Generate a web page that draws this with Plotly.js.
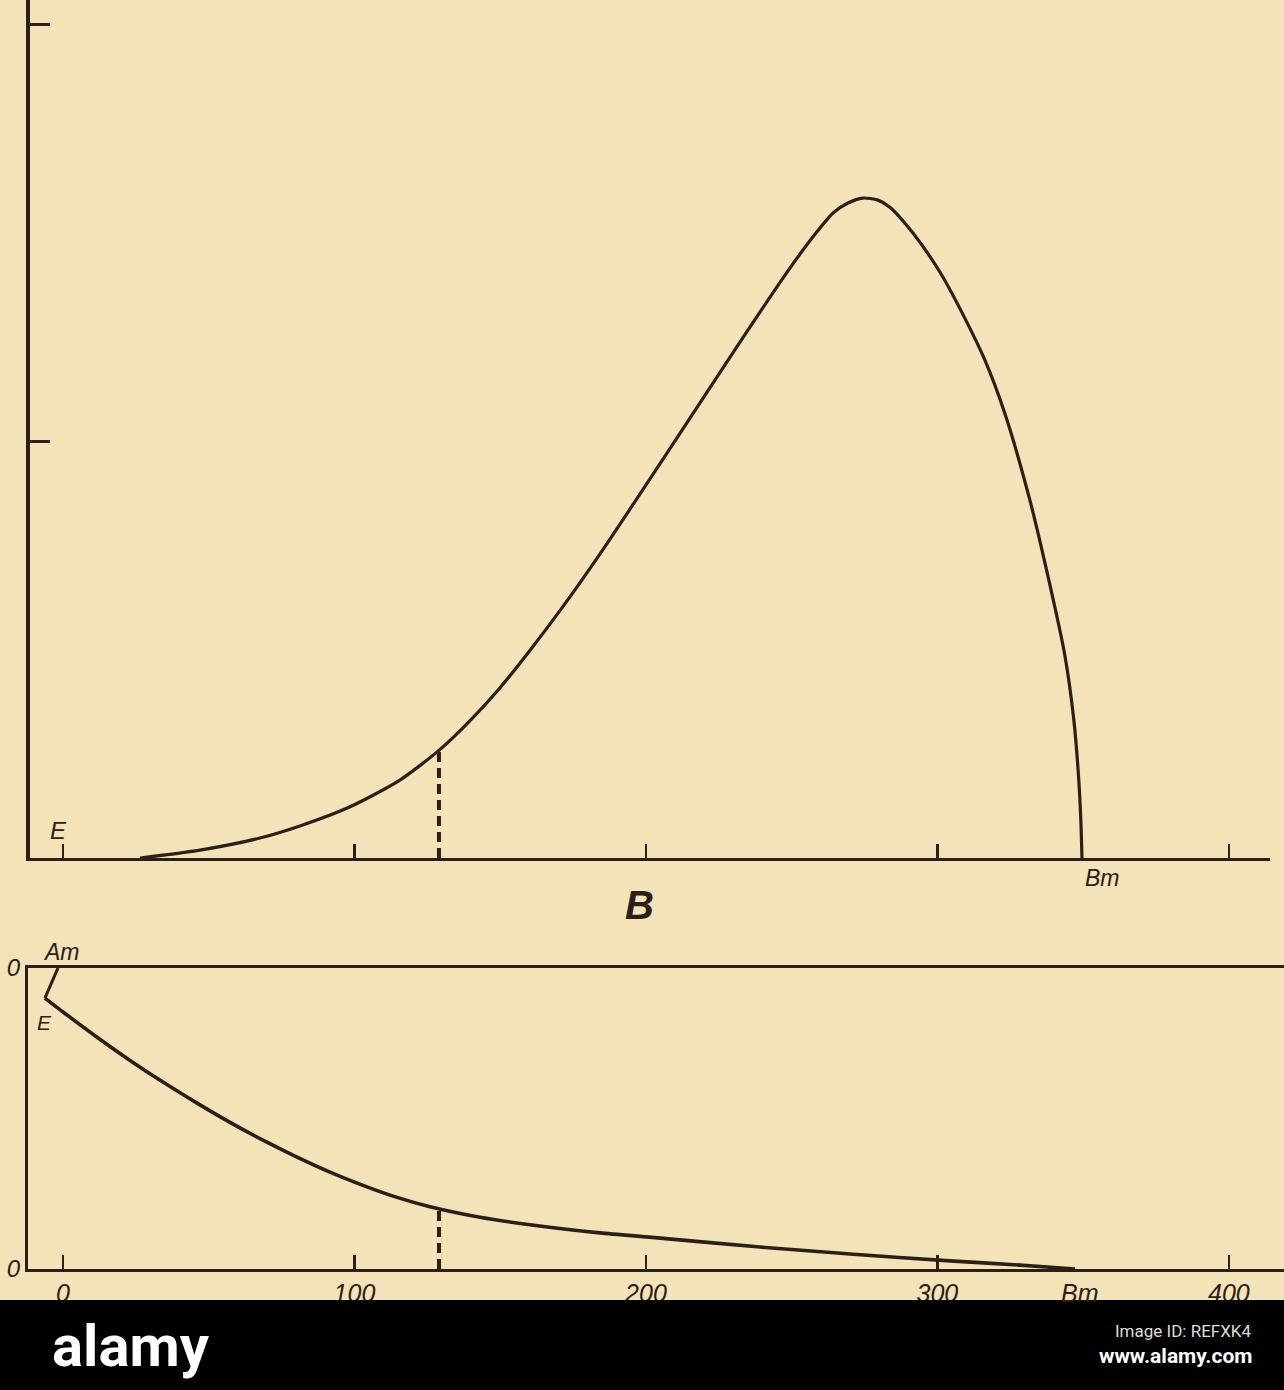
<!DOCTYPE html>
<html>
<head>
<meta charset="utf-8">
<script src="https://cdn.plot.ly/plotly-3.0.1.min.js"></script>
<style>
  html, body { margin: 0; padding: 0; background: #f4e3b8; }
  #chart { width: 1284px; height: 1390px; }
</style>
</head>
<body>
<div id="chart"></div>
<script>
// ---- Data ----
// Upper diagram: curve from its base up to the maximum and down to Bm
const upperX = [26.4, 47.0, 67.6, 81.3, 98.5, 115.6, 129.3, 139.6, 149.9, 160.2, 171.2, 184.2, 195.5, 218.5, 232.2, 249.4, 258.0, 264.2, 269.3, 274.4, 279.6, 283.7, 291.6, 300.9, 309.4, 316.3, 323.2, 331.7, 338.6, 343.7, 346.8, 348.5, 349.2, 349.6];
const upperY = [0, 0.019, 0.048, 0.077, 0.123, 0.187, 0.260, 0.329, 0.408, 0.498, 0.600, 0.729, 0.847, 1.091, 1.237, 1.415, 1.496, 1.547, 1.571, 1.583, 1.578, 1.561, 1.499, 1.405, 1.295, 1.194, 1.065, 0.859, 0.655, 0.487, 0.331, 0.187, 0.091, 0];

// Lower diagram: Am -> E short segment, then the falling curve to Bm
const amEX = [-1.7, -6.2];
const amEY = [100, 90.0];
const lowerX = [-6.2, 0, 11.7, 23.0, 34.3, 46.0, 57.3, 68.6, 80.3, 91.6, 102.9, 114.6, 125.9, 143.1, 160.2, 184.2, 202.1, 239.1, 270.0, 304.3, 328.3, 347.2];
const lowerY = [90.0, 85.4, 77.0, 69.3, 62.1, 55.1, 48.7, 42.8, 37.2, 32.2, 27.8, 23.8, 20.7, 17.2, 14.7, 12.0, 10.5, 7.3, 5.0, 2.7, 1.3, 0];

// Dashed marker (same abscissa in both diagrams)
const dashX = 129;
const dashUpperTop = 0.260;
const dashLowerTop = 20.1;

// Axis ticks
const xTickVals = [0, 100, 200, 300, 400];
const xTickText = ['0', '100', '200', '300', '400'];
const upperYTicks = [1, 2];
const lowerYTicks = [0, 100];
const lowerYTickText = ['0', '0'];
const bmValue = 349;

// ---- Styling ----
const ink = '#2a2017';
const paperBg = '#f4e3b8';
const fontFam = '"Liberation Sans", "DejaVu Sans", Arial, sans-serif';

const traces = [
  { x: upperX, y: upperY, xaxis: 'x', yaxis: 'y', mode: 'lines',
    line: { color: ink, width: 3.2, shape: 'spline', smoothing: 0.7 }, hoverinfo: 'skip' },
  { x: [dashX, dashX], y: [0, dashUpperTop], xaxis: 'x', yaxis: 'y', mode: 'lines',
    line: { color: ink, width: 4, dash: '10px,6px' }, hoverinfo: 'skip' },
  { x: amEX, y: amEY, xaxis: 'x2', yaxis: 'y2', mode: 'lines',
    line: { color: ink, width: 3 }, hoverinfo: 'skip' },
  { x: lowerX, y: lowerY, xaxis: 'x2', yaxis: 'y2', mode: 'lines',
    line: { color: ink, width: 3.6, shape: 'spline', smoothing: 0.7 }, hoverinfo: 'skip' },
  { x: [dashX, dashX], y: [0, dashLowerTop], xaxis: 'x2', yaxis: 'y2', mode: 'lines',
    line: { color: ink, width: 4, dash: '10px,6px' }, hoverinfo: 'skip' }
];

const italic = (size, weight) => ({ family: fontFam, size: size, color: ink, style: 'italic', weight: weight || 'normal' });

const layout = {
  width: 1284, height: 1390,
  margin: { l: 0, r: 0, t: 0, b: 0 },
  paper_bgcolor: paperBg, plot_bgcolor: paperBg,
  showlegend: false,
  xaxis: {
    domain: [0.02336, 0.98910], range: [-11.3, 414.1], anchor: 'y',
    showline: true, linecolor: ink, linewidth: 3,
    ticks: 'inside', ticklen: 14, tickwidth: 2.5, tickcolor: ink,
    tickvals: xTickVals, showticklabels: false, showgrid: false, zeroline: false
  },
  yaxis: {
    domain: [0.3827, 1], range: [0, 2.058], anchor: 'x',
    showline: true, linecolor: ink, linewidth: 3.5,
    ticks: 'inside', ticklen: 20, tickwidth: 3, tickcolor: ink,
    tickvals: upperYTicks, showticklabels: false, showgrid: false, zeroline: false
  },
  xaxis2: {
    domain: [0.02181, 1], range: [-12.0, 418.9], anchor: 'y2',
    showline: true, mirror: true, linecolor: ink, linewidth: 3,
    ticks: 'inside', ticklen: 14, tickwidth: 2.5, tickcolor: ink,
    tickvals: xTickVals, ticktext: xTickText, tickfont: italic(25),
    showgrid: false, zeroline: false
  },
  yaxis2: {
    domain: [0.08705, 0.30360], range: [0, 100], anchor: 'x2',
    showline: true, linecolor: ink, linewidth: 3,
    ticks: '', tickvals: lowerYTicks, ticktext: lowerYTickText, tickfont: italic(24),
    showgrid: false, zeroline: false
  },
  annotations: [
    { xref: 'x', yref: 'y', x: -1.5, y: 0.067, text: 'E', showarrow: false, font: italic(24), xanchor: 'center', yanchor: 'middle' },
    { xref: 'paper', yref: 'paper', x: 0.498, y: 0.349, text: 'B', showarrow: false, font: italic(40, 'bold'), xanchor: 'center', yanchor: 'middle' },
    { xref: 'paper', yref: 'paper', x: 0.859, y: 0.3683, text: 'Bm', showarrow: false, font: italic(23), xanchor: 'center', yanchor: 'middle' },
    { xref: 'paper', yref: 'paper', x: 0.048, y: 0.3151, text: 'Am', showarrow: false, font: italic(23), xanchor: 'center', yanchor: 'middle' },
    { xref: 'paper', yref: 'paper', x: 0.035, y: 0.2647, text: 'E', showarrow: false, font: italic(21), xanchor: 'center', yanchor: 'middle' },
    { xref: 'x2', yref: 'paper', x: bmValue, y: 0.0698, text: 'Bm', showarrow: false, font: italic(25), xanchor: 'center', yanchor: 'middle' },
    { xref: 'paper', yref: 'paper', x: 0.039, y: 0.032, text: '<b>alamy</b>', showarrow: false,
      font: { family: '"Liberation Sans Narrow", "Roboto", sans-serif', size: 58, color: '#ffffff' }, xanchor: 'left', yanchor: 'middle' },
    { xref: 'paper', yref: 'paper', x: 0.977, y: 0.0425, text: 'Image ID: REFXK4', showarrow: false,
      font: { family: '"Liberation Sans Narrow", "Roboto", sans-serif', size: 17, color: '#dddddd' }, xanchor: 'right', yanchor: 'middle' },
    { xref: 'paper', yref: 'paper', x: 0.977, y: 0.0245, text: 'www.alamy.com', showarrow: false,
      font: { family: '"Liberation Sans Narrow", "Roboto", sans-serif', size: 21, color: '#ffffff', weight: 'bold' }, xanchor: 'right', yanchor: 'middle' }
  ],
  shapes: [
    { type: 'rect', xref: 'paper', yref: 'paper', x0: 0, x1: 1, y0: 0, y1: 0.06475,
      fillcolor: '#000000', line: { width: 0 }, layer: 'above' }
  ]
};

Plotly.newPlot('chart', traces, layout, { staticPlot: true, displayModeBar: false });
</script>
</body>
</html>
